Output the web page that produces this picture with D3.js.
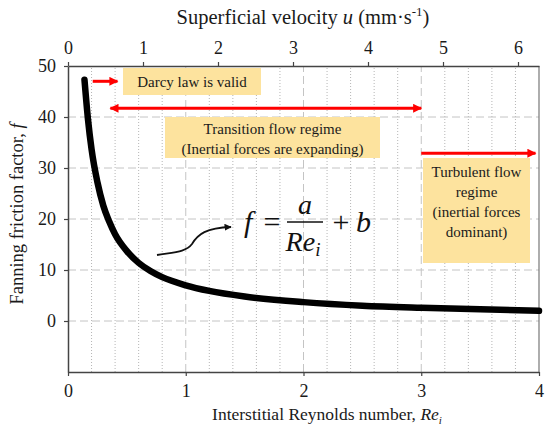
<!DOCTYPE html>
<html lang="en">
  <head>
    <meta charset="UTF-8" />
    <title>Fanning friction factor vs Reynolds number</title>
    <script src="https://d3js.org/d3.v7.min.js"></script>
    <style>
      body {
        margin: 0;
        background-color: #fff;
      }
      svg text {
        font-family: "Liberation Serif", "DejaVu Serif", serif;
      }
      .tick text {
        font-size: 18px;
        fill: #1a1a1a;
      }
      .axis-title {
        fill: #1a1a1a;
      }
      .box-text {
        font-size: 15px;
        fill: #1a1a1a;
        text-anchor: middle;
      }
    </style>
  </head>
  <body>
    <svg id="chart"></svg>

    <script>
      // friction factor curve
      const reValues = [0.14, 0.17, 0.2, 0.25, 0.3, 0.35, 0.4, 0.5, 0.6, 0.7, 0.8, 1.0, 1.2, 1.5, 2.0, 2.5, 3.0, 3.5, 4.0];
      const fValues = [47.3, 39.5, 33.7, 27.2, 22.6, 19.5, 17.0, 13.7, 11.4, 9.8, 8.6, 7.0, 5.9, 4.8, 3.7, 3.0, 2.6, 2.3, 2.0];

      const reTicks = [0, 1, 2, 3, 4];
      const uTicks = [0, 1, 2, 3, 4, 5, 6];
      const fTicks = [0, 10, 20, 30, 40, 50];

      // regime arrows [from Re, to Re, f level]
      const darcyArrow = [0.21, 0.42, 47.0];
      const transitionArrow = [0.36, 3.0, 41.7];
      const turbulentArrow = [3.0, 3.97, 32.9];

      const width = 550;
      const height = 431;
      const margin = { top: 66, right: 11, bottom: 59, left: 68 };

      const svg = d3.select("#chart").attr("width", width).attr("height", height);

      const x = d3.scaleLinear().domain([0, 4]).range([margin.left, width - margin.right]);
      const xTop = d3.scaleLinear().domain([0, 6.28]).range([margin.left, width - margin.right]);
      const y = d3.scaleLinear().domain([-10, 50]).range([height - margin.bottom, margin.top]);

      // grid
      const grid = svg.append("g");
      grid
        .selectAll(".minor-x")
        .data(d3.range(0.2, 4, 0.2).filter((d) => Math.abs(d - Math.round(d)) > 0.01))
        .join("line")
        .attr("x1", (d) => x(d))
        .attr("x2", (d) => x(d))
        .attr("y1", y(-10))
        .attr("y2", y(50))
        .attr("stroke", "#b5b5b5")
        .attr("stroke-width", 1)
        .attr("stroke-dasharray", "1,2");
      grid
        .selectAll(".major-x")
        .data([1, 2, 3])
        .join("line")
        .attr("x1", (d) => x(d))
        .attr("x2", (d) => x(d))
        .attr("y1", y(-10))
        .attr("y2", y(50))
        .attr("stroke", "#c4c4c4")
        .attr("stroke-width", 1)
        .attr("stroke-dasharray", "8,4");
      grid
        .selectAll(".major-y")
        .data([0, 10, 20, 30, 40])
        .join("line")
        .attr("x1", x(0))
        .attr("x2", x(4))
        .attr("y1", (d) => y(d))
        .attr("y2", (d) => y(d))
        .attr("stroke", "#c4c4c4")
        .attr("stroke-width", 1)
        .attr("stroke-dasharray", "8,4");

      // right border
      svg
        .append("line")
        .attr("x1", x(4))
        .attr("x2", x(4))
        .attr("y1", y(-10))
        .attr("y2", y(50))
        .attr("stroke", "#777")
        .attr("stroke-width", 1.2);

      // axes
      const styleAxis = (g) => {
        g.attr("font-family", null).attr("font-size", null);
        g.select(".domain").attr("stroke", "#444").attr("stroke-width", 1.5);
        g.selectAll(".tick line").attr("stroke", "#444").attr("stroke-width", 1.2);
      };

      svg
        .append("g")
        .attr("transform", `translate(0,${y(-10)})`)
        .call(d3.axisBottom(x).tickValues(reTicks).tickFormat(d3.format("d")).tickSize(4).tickSizeOuter(0).tickPadding(8))
        .call(styleAxis);

      svg
        .append("g")
        .attr("transform", `translate(0,${y(50)})`)
        .call(d3.axisTop(xTop).tickValues(uTicks).tickFormat(d3.format("d")).tickSize(4).tickSizeOuter(0).tickPadding(8))
        .call(styleAxis);

      svg
        .append("g")
        .attr("transform", `translate(${x(0)},0)`)
        .call(d3.axisLeft(y).tickValues(fTicks).tickSize(4).tickSizeOuter(0).tickPadding(8))
        .call(styleAxis);

      // axis titles
      const topTitle = svg
        .append("text")
        .attr("class", "axis-title")
        .style("font-size", "20.5px")
        .attr("x", 303)
        .attr("y", 24)
        .attr("text-anchor", "middle");
      topTitle.append("tspan").text("Superficial velocity ");
      topTitle.append("tspan").attr("font-style", "italic").text("u");
      topTitle.append("tspan").text(" (mm·s");
      topTitle.append("tspan").style("font-size", "13px").attr("dy", -8).text("-1");
      topTitle.append("tspan").attr("dy", 8).text(")");

      const bottomTitle = svg
        .append("text")
        .attr("class", "axis-title")
        .style("font-size", "17.5px")
        .attr("x", 327)
        .attr("y", 420)
        .attr("text-anchor", "middle");
      bottomTitle.append("tspan").text("Interstitial Reynolds number, ");
      bottomTitle.append("tspan").attr("font-style", "italic").text("Re");
      bottomTitle.append("tspan").attr("font-style", "italic").style("font-size", "11px").attr("dy", 4).text("i");

      const leftTitle = svg
        .append("text")
        .attr("class", "axis-title")
        .style("font-size", "18.5px")
        .attr("transform", "translate(23,214) rotate(-90)")
        .attr("text-anchor", "middle");
      leftTitle.append("tspan").text("Fanning friction factor, ");
      leftTitle.append("tspan").attr("font-style", "italic").text("f");

      // annotation boxes
      const boxColor = "#fde39e";
      const boxes = [
        { x0: 123, y0: 68, x1: 261, y1: 95, lines: ["Darcy law is valid"], cy: 87, lh: 0 },
        {
          x0: 165, y0: 117, x1: 380, y1: 158,
          lines: ["Transition flow regime", "(Inertial forces are expanding)"], cy: 134, lh: 20,
        },
        {
          x0: 423, y0: 158, x1: 530, y1: 263,
          lines: ["Turbulent flow", "regime", "(inertial forces", "dominant)"], cy: 177, lh: 20,
        },
      ];
      boxes.forEach((b) => {
        svg
          .append("rect")
          .attr("x", b.x0)
          .attr("y", b.y0)
          .attr("width", b.x1 - b.x0)
          .attr("height", b.y1 - b.y0)
          .attr("fill", boxColor);
        b.lines.forEach((t, i) => {
          svg
            .append("text")
            .attr("class", "box-text")
            .attr("x", (b.x0 + b.x1) / 2)
            .attr("y", b.cy + i * b.lh)
            .text(t);
        });
      });

      // red arrows
      const defs = svg.append("defs");
      defs
        .append("marker")
        .attr("id", "red-head")
        .attr("viewBox", "0 0 10 10")
        .attr("refX", 9)
        .attr("refY", 5)
        .attr("markerWidth", 3.4)
        .attr("markerHeight", 3)
        .attr("markerUnits", "strokeWidth")
        .attr("orient", "auto-start-reverse")
        .append("path")
        .attr("d", "M0,0 L10,5 L0,10 Z")
        .attr("fill", "#ff0000");
      defs
        .append("marker")
        .attr("id", "black-head")
        .attr("viewBox", "0 0 10 10")
        .attr("refX", 9)
        .attr("refY", 5)
        .attr("markerWidth", 4)
        .attr("markerHeight", 4)
        .attr("markerUnits", "strokeWidth")
        .attr("orient", "auto")
        .append("path")
        .attr("d", "M0,0 L10,5 L0,10 Z")
        .attr("fill", "#111");

      const drawArrow = (a, both) => {
        svg
          .append("line")
          .attr("x1", x(a[0]))
          .attr("x2", x(a[1]))
          .attr("y1", y(a[2]))
          .attr("y2", y(a[2]))
          .attr("stroke", "#ff0000")
          .attr("stroke-width", 3)
          .attr("marker-end", "url(#red-head)")
          .attr("marker-start", both ? "url(#red-head)" : null);
      };
      drawArrow(darcyArrow, false);
      drawArrow(transitionArrow, true);
      drawArrow(turbulentArrow, false);

      // the curve
      const line = d3
        .line()
        .x((d, i) => x(reValues[i]))
        .y((d) => y(d))
        .curve(d3.curveMonotoneX);

      svg
        .append("path")
        .datum(fValues)
        .attr("d", line)
        .attr("fill", "none")
        .attr("stroke", "#000")
        .attr("stroke-width", 6.5)
        .attr("stroke-linecap", "round");

      // equation f = a / Re_i + b
      const eq = svg.append("g").attr("fill", "#111");
      const eqText = (tx, ty, size, italic, anchor, s) =>
        eq
          .append("text")
          .attr("x", tx)
          .attr("y", ty)
          .style("font-size", size + "px")
          .attr("font-style", italic ? "italic" : null)
          .attr("text-anchor", anchor)
          .text(s);
      eqText(244, 232, 30, true, "start", "f");
      eqText(272, 232, 30, false, "middle", "=");
      eqText(305, 214, 28, true, "middle", "a");
      eq.append("line").attr("x1", 287).attr("x2", 323).attr("y1", 222).attr("y2", 222).attr("stroke", "#111").attr("stroke-width", 1.4);
      const den = eqText(303, 251, 28, true, "middle", "");
      den.append("tspan").text("Re");
      den.append("tspan").style("font-size", "19px").attr("dy", 5).text("i");
      eqText(341, 232, 30, false, "middle", "+");
      eqText(356, 232, 30, true, "start", "b");

      // pointer to the curve
      svg
        .append("path")
        .attr("d", "M157,255 C175,252 186,252 192,244 C198,234 206,228 231,227")
        .attr("fill", "none")
        .attr("stroke", "#111")
        .attr("stroke-width", 1.8)
        .attr("marker-end", "url(#black-head)");
    </script>
  </body>
</html>
